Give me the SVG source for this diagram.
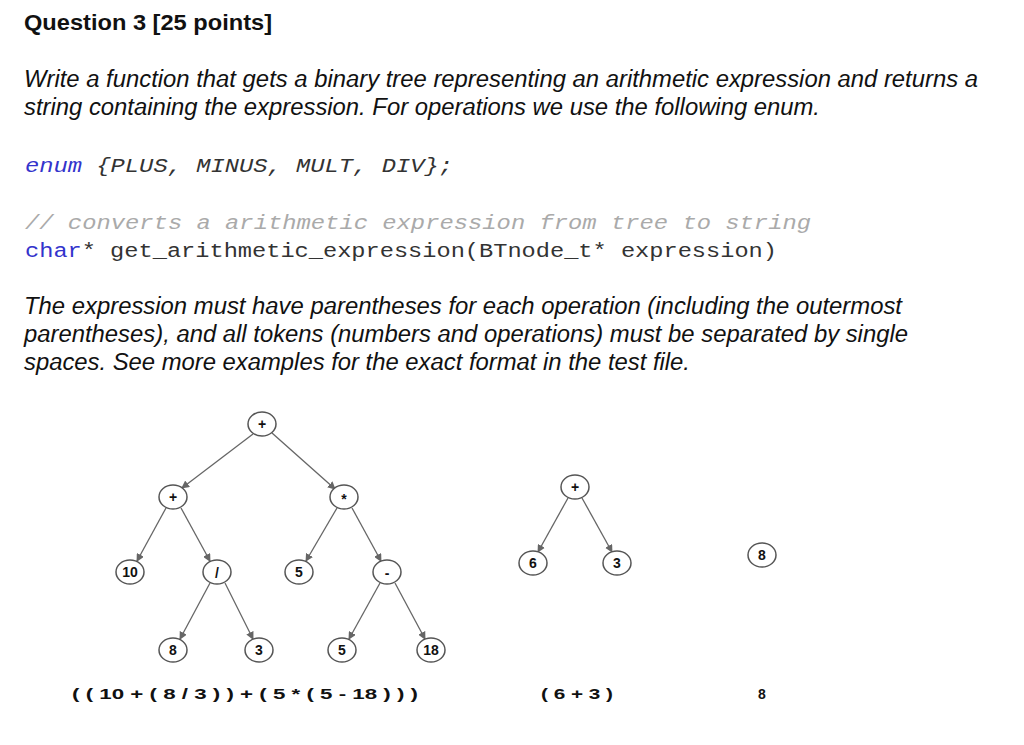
<svg xmlns="http://www.w3.org/2000/svg" width="1024" height="745" viewBox="0 0 1024 745">
<style>
.t{font-family:"Liberation Sans",Arial,sans-serif;fill:#111}
.i{font-family:"Liberation Sans",Arial,sans-serif;font-style:italic;font-size:23px;fill:#111}
.m{font-family:"Liberation Mono","Courier New",monospace;font-size:20px;fill:#333}
.n ellipse{fill:#fff;stroke:#555;stroke-width:1.5}
.n text{font-family:"Liberation Sans",Arial,sans-serif;font-weight:bold;font-size:14px;text-anchor:middle;fill:#111}
#edges line{stroke:#666;stroke-width:1.3;marker-end:url(#a)}
.e{font-family:"Liberation Sans",Arial,sans-serif;font-weight:bold;font-size:14px;fill:#111}
</style>
<defs><marker id="a" markerWidth="8" markerHeight="8" refX="7" refY="4" orient="auto" markerUnits="userSpaceOnUse"><path d="M0,0L8,4L0,8z" fill="#666"/></marker></defs>
<rect width="1024" height="745" fill="#fff"/>
<text class="t" x="24" y="30" font-size="22" font-weight="bold" textLength="248" lengthAdjust="spacingAndGlyphs">Question 3 [25 points]</text>
<text class="i" x="24" y="87" textLength="954" lengthAdjust="spacingAndGlyphs">Write a function that gets a binary tree representing an arithmetic expression and returns a</text>
<text class="i" x="24" y="115" textLength="796" lengthAdjust="spacingAndGlyphs">string containing the expression. For operations we use the following enum.</text>
<text class="m" x="25" y="172" font-style="italic" textLength="428" lengthAdjust="spacingAndGlyphs"><tspan fill="#3333cc">enum</tspan> {PLUS, MINUS, MULT, DIV};</text>
<text class="m" x="25" y="229" font-style="italic" style="fill:#aaa" textLength="786" lengthAdjust="spacingAndGlyphs">// converts a arithmetic expression from tree to string</text>
<text class="m" x="25" y="257" textLength="752" lengthAdjust="spacingAndGlyphs"><tspan fill="#3333cc">char</tspan>* get_arithmetic_expression(BTnode_t* expression)</text>
<text class="i" x="24" y="314" textLength="878" lengthAdjust="spacingAndGlyphs">The expression must have parentheses for each operation (including the outermost</text>
<text class="i" x="24" y="342" textLength="884" lengthAdjust="spacingAndGlyphs">parentheses), and all tokens (numbers and operations) must be separated by single</text>
<text class="i" x="24" y="370" textLength="666" lengthAdjust="spacingAndGlyphs">spaces. See more examples for the exact format in the test file.</text>
<g id="edges">
<line x1="253" y1="434" x2="182" y2="488"/>
<line x1="272" y1="433" x2="335" y2="489"/>
<line x1="166" y1="508" x2="137" y2="561"/>
<line x1="181" y1="508" x2="210" y2="561"/>
<line x1="337" y1="508" x2="306" y2="561"/>
<line x1="352" y1="508" x2="381" y2="561"/>
<line x1="210" y1="583" x2="180" y2="639"/>
<line x1="225" y1="583" x2="253" y2="639"/>
<line x1="380" y1="583" x2="349" y2="639"/>
<line x1="395" y1="583" x2="425" y2="639"/>
<line x1="568" y1="498" x2="538" y2="552"/>
<line x1="582" y1="498" x2="612" y2="552"/>
</g>
<g id="n1" class="n"><ellipse cx="262" cy="424" rx="14" ry="12"/><text x="262" y="429">+</text></g>
<g id="n2" class="n"><ellipse cx="173" cy="497" rx="14" ry="12"/><text x="173" y="502">+</text></g>
<g id="n3" class="n"><ellipse cx="344" cy="497" rx="14" ry="12"/><text x="344" y="504" font-size="18">*</text></g>
<g id="n4" class="n"><ellipse cx="130" cy="572" rx="14" ry="12"/><text x="130" y="577">10</text></g>
<g id="n5" class="n"><ellipse cx="217" cy="572" rx="14" ry="12"/><text x="217" y="578" font-size="17">/</text></g>
<g id="n6" class="n"><ellipse cx="299" cy="572" rx="14" ry="12"/><text x="299" y="577">5</text></g>
<g id="n7" class="n"><ellipse cx="387" cy="572" rx="14" ry="12"/><text x="387" y="578">-</text></g>
<g id="n8" class="n"><ellipse cx="173" cy="650" rx="14" ry="12"/><text x="173" y="655">8</text></g>
<g id="n9" class="n"><ellipse cx="259" cy="650" rx="14" ry="12"/><text x="259" y="655">3</text></g>
<g id="n10" class="n"><ellipse cx="342" cy="650" rx="14" ry="12"/><text x="342" y="655">5</text></g>
<g id="n11" class="n"><ellipse cx="431" cy="650" rx="14" ry="12"/><text x="431" y="655">18</text></g>
<g id="n12" class="n"><ellipse cx="575" cy="487" rx="14" ry="12"/><text x="575" y="492">+</text></g>
<g id="n13" class="n"><ellipse cx="533" cy="563" rx="14" ry="12"/><text x="533" y="568">6</text></g>
<g id="n14" class="n"><ellipse cx="617" cy="563" rx="14" ry="12"/><text x="617" y="568">3</text></g>
<g id="n15" class="n"><ellipse cx="762" cy="555" rx="14" ry="12"/><text x="762" y="560">8</text></g>
<text class="e" x="72" y="699" textLength="346" lengthAdjust="spacingAndGlyphs">( ( 10 + ( 8 / 3 ) ) + ( 5 * ( 5 - 18 ) ) )</text>
<text class="e" x="541" y="699" textLength="72" lengthAdjust="spacingAndGlyphs">( 6 + 3 )</text>
<text class="e" x="762" y="699" text-anchor="middle">8</text>
</svg>
